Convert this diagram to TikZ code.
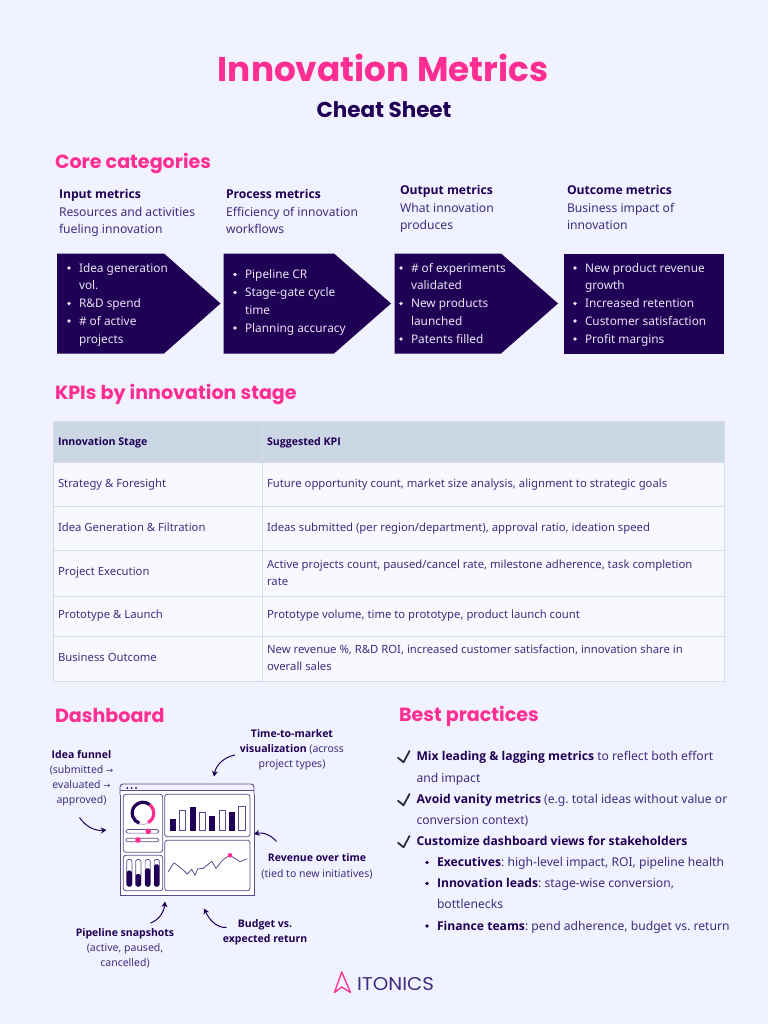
\documentclass[tikz,border=0pt]{standalone}
\usepackage{fontspec}
\setmainfont{Noto Sans}
\newfontfamily\pop{Poppins}
\newfontfamily\opn{Open Sans}
\newfontfamily\djv{DejaVu Sans}
\usetikzlibrary{arrows.meta}
\AtBeginDocument{\frenchspacing}
\definecolor{bgc}{HTML}{F0F2FF}
\definecolor{pnk}{HTML}{FF2E93}
\definecolor{nvy}{HTML}{1F0054}
\definecolor{bdy}{HTML}{3E2E7E}
\definecolor{lit}{HTML}{E6E4F4}
\definecolor{hdr}{HTML}{CBD7E5}
\definecolor{rowc}{HTML}{F7F9FE}
\definecolor{lin}{HTML}{D6DCE8}
\definecolor{gry}{HTML}{5A4C8E}
\definecolor{chk}{HTML}{2E2B45}
\newcount\tc
\newcommand{\bb}[1]{{\opn\bfseries\textcolor{nvy}{#1}}}
\tikzset{
 txt/.style={inner sep=0pt,outer sep=0pt,anchor=base west,text=bdy,font=\fontsize{12.15}{15}\selectfont},
 pent/.style={txt,text=lit,font=\fontsize{11.85}{15}\selectfont},
 ctr/.style={inner sep=0pt,outer sep=0pt,anchor=base,text=bdy,font=\fontsize{10.5}{13}\selectfont},
 cell/.style={inner sep=0pt,outer sep=0pt,anchor=base west,text=bdy,font=\fontsize{11.3}{13}\selectfont},
 sect/.style={inner sep=0pt,outer sep=0pt,anchor=base west,text=pnk,font=\pop\bfseries\fontsize{19.1}{23}\selectfont},
 arrowshape/.style={fill=nvy,draw=none},
 callout/.style={-{Stealth[length=5.5pt,width=6pt,inset=1.5pt]},line width=1pt,draw=nvy},
 panel/.style={draw=gry,line width=.8pt,fill=white,rounded corners=2.5pt},
 barfull/.style={fill=nvy,draw=none},
 barhollow/.style={fill=white,draw=gry,line width=.7pt},
 dotp/.style={fill=pnk,draw=none},
 rule/.style={draw=lin,line width=.7pt},
 checkm/.style={draw=chk,line width=1.8pt,line cap=round,line join=round},
}
\newcommand{\tx}[4][]{\global\advance\tc by 1 \node[txt,#1] (t\the\tc) at (#2,#3+4.3) {#4};}
\newcommand{\pl}[3]{\global\advance\tc by 1 \node[pent] (t\the\tc) at (#1,#2+4.3) {#3};}
\newcommand{\cc}[3]{\global\advance\tc by 1 \node[ctr] (t\the\tc) at (#1,#2+3.6) {#3};}
\newcommand{\ce}[3]{\global\advance\tc by 1 \node[cell] (t\the\tc) at (#1,#2+3.9) {#3};}
\newcommand{\bl}[3]{\fill[lit] (#1,#2) circle (1.9);\pl{#1+10}{#2}{#3}}
\newcommand{\bn}[3]{\fill[nvy] (#1,#2) circle (1.9);\tx{#1+10}{#2}{#3}}
\newcommand{\ra}{{\djv\fontsize{8.5}{10}\selectfont →}}
\newcommand{\hd}[3]{\tx[text=nvy,font=\opn\bfseries\fontsize{12.15}{15}\selectfont]{#1}{#2}{#3}}
\begin{document}
\begin{tikzpicture}[x=1pt,y=-1pt]
\fill[bgc] (0,0) rectangle (768,1024);
\useasboundingbox (0,0) rectangle (768,1024);
% Title
\node[inner sep=0pt,anchor=base,text=pnk,font=\pop\bfseries\fontsize{34.3}{40}\selectfont] (title) at (383,82) {Innovation Metrics};
\node[inner sep=0pt,anchor=base,text=nvy,font=\pop\bfseries\fontsize{21.5}{26}\selectfont] (sub) at (384,118) {Cheat Sheet};
\node[sect] (s1) at (55,169) {Core categories};
\node[sect] (s2) at (55,399) {KPIs by innovation stage};
\node[sect] (s3) at (55,722) {Dashboard};
\node[sect] (s4) at (399,721) {Best practices};
% Category headings
\hd{59}{194.5}{Input metrics}
\tx{59}{212}{Resources and activities}
\tx{59}{229.5}{fueling innovation}
\hd{226}{194.5}{Process metrics}
\tx{226}{212}{Efficiency of innovation}
\tx{226}{229.5}{workflows}
\hd{400}{190.5}{Output metrics}
\tx{400}{208.5}{What innovation}
\tx{400}{225.5}{produces}
\hd{567}{190.5}{Outcome metrics}
\tx{567}{208.5}{Business impact of}
\tx{567}{225.5}{innovation}
% Pentagons
\fill[arrowshape] (57,253.5) -- (164,253.5) -- (220.5,303.5) -- (164,353.5) -- (57,353.5) -- cycle;
\fill[arrowshape] (223.5,253.5) -- (334,253.5) -- (391,303.5) -- (334,353.5) -- (223.5,353.5) -- cycle;
\fill[arrowshape] (394.5,253.5) -- (501,253.5) -- (558,303.5) -- (501,353.5) -- (394.5,353.5) -- cycle;
\fill[arrowshape] (564,253.5) rectangle (724,353.5);
\bl{69}{268}{Idea generation}
\pl{79}{285.5}{vol.}
\bl{69}{303.5}{R\&D spend}
\bl{69}{321}{\# of active}
\pl{79}{339}{projects}
\bl{235}{274.5}{Pipeline CR}
\bl{235}{292.5}{Stage-gate cycle}
\pl{245}{310}{time}
\bl{235}{328}{Planning accuracy}
\bl{401}{268}{\# of experiments}
\pl{411}{285.5}{validated}
\bl{401}{303.5}{New products}
\pl{411}{321}{launched}
\bl{401}{339}{Patents filled}
\bl{575}{268}{New product revenue}
\pl{585}{285.5}{growth}
\bl{575}{303.5}{Increased retention}
\bl{575}{321}{Customer satisfaction}
\bl{575}{339}{Profit margins}
% Table
\fill[hdr] (53,421) rectangle (724.5,462);
\fill[rowc] (53,462) rectangle (724.5,681);
\draw[rule] (53,421) rectangle (724.5,681);
\foreach \yy in {462,506,550.5,596,636.5} \draw[rule] (53,\yy) -- (724.5,\yy);
\draw[rule] (262.5,421) -- (262.5,681);
\node[cell,text=nvy,font=\opn\bfseries\fontsize{10.6}{13}\selectfont] (h1) at (58,445) {Innovation Stage};
\node[cell,text=nvy,font=\opn\bfseries\fontsize{10.6}{13}\selectfont] (h2) at (267,445) {Suggested KPI};
\ce{58}{484}{Strategy \& Foresight}
\ce{267}{484}{Future opportunity count, market size analysis, alignment to strategic goals}
\ce{58}{528}{Idea Generation \& Filtration}
\ce{267}{528}{Ideas submitted (per region/department), approval ratio, ideation speed}
\ce{58}{572}{Project Execution}
\ce{267}{564.5}{Active projects count, paused/cancel rate, milestone adherence, task completion}
\ce{267}{581.5}{rate}
\ce{58}{615}{Prototype \& Launch}
\ce{267}{615}{Prototype volume, time to prototype, product launch count}
\ce{58}{658}{Business Outcome}
\ce{267}{649.5}{New revenue \%, R\&D ROI, increased customer satisfaction, innovation share in}
\ce{267}{666.5}{overall sales}
% Dashboard labels
\cc{81.5}{754.5}{\bb{Idea funnel}}
\cc{81.5}{770}{(submitted \ra}
\cc{81.5}{785}{evaluated \ra}
\cc{81.5}{800}{approved)}
\cc{292}{733.5}{\bb{Time-to-market}}
\cc{292}{748.5}{\bb{visualization} (across}
\cc{292}{763.5}{project types)}
\cc{317}{858}{\bb{Revenue over time}}
\cc{317}{873.5}{(tied to new initiatives)}
\cc{125}{932.5}{\bb{Pipeline snapshots}}
\cc{125}{947.5}{(active, paused,}
\cc{125}{962.5}{cancelled)}
\cc{265}{923.5}{\bb{Budget vs.}}
\cc{265}{938.5}{\bb{expected return}}
% Window
\fill[white] (120,790.7) rectangle (254,895);
\draw[draw=gry,line width=.9pt,rounded corners=3pt] (120,795) -- (120,784) -- (254,784) -- (254,795);
\draw[draw=gry,line width=.9pt] (120,795) -- (120,895) -- (254,895) -- (254,795) (120,790.7) -- (254,790.7);
\foreach \xx in {127.3,131.7,136} \fill[nvy] (\xx,788) circle (1);
\draw[panel] (123.3,794.3) rectangle (162.7,852.3);
\draw[panel] (164.7,794.3) rectangle (250,836.7);
\draw[panel] (164.7,840.3) rectangle (250,890.7);
\draw[panel] (123.3,855.3) rectangle (162.7,890.7);
% donut
\draw[nvy,line width=3.2pt] (143,813) ++(-50:10.8) arc[start angle=-50,end angle=-250,radius=10.8];
\draw[pnk,line width=3.2pt] (143,813) ++(62:10.8) arc[start angle=62,end angle=-50,radius=10.8];
\draw[lit!70!gry,line width=1pt] (143,813) ++(110:11.5) arc[start angle=110,end angle=62,radius=11.5];
% sliders
\foreach \yy/\px in {831.3/148.3,840/138}{
 \draw[draw=gry,line width=.7pt,fill=white,rounded corners=1.5pt] (126,\yy-1.8) rectangle (158.7,\yy+1.8);
 \fill[dotp] (\px,\yy) circle (2.8);
}
% bars
\foreach \xa/\xb/\yt in {170/176/818.7,189.7/195.7/807,209.3/215.3/816.3,228.7/235/812.3}
 \fill[barfull] (\xa,\yt) rectangle (\xb,830.7);
\foreach \xa/\xb/\yt in {179.3/185.3/810.3,199.3/205.7/812.3,219/225.3/810.7,238.7/245/806}
 \draw[barhollow] (\xa,\yt) rectangle (\xb,830.7);
% pills
\foreach \xx/\yt in {129.3/870.7,138.3/874,147.7/868.3,156.7/864.3}{
 \draw[draw=gry,line width=.7pt,fill=white,rounded corners=2pt] (\xx-2.6,859.5) rectangle (\xx+2.6,886);
 \fill[nvy,rounded corners=1.5pt] (\xx-2.6,\yt) rectangle (\xx+2.6,886.5);
}
% line chart
\draw[gry,line width=.8pt,line join=round] (168.3,871.7) -- (174,862.7) -- (183.3,870) -- (187.3,874) -- (191.7,869.3) -- (195,875.3) -- (197.7,869) -- (203.3,868.3) -- (211.7,861.3) -- (216,868.3) -- (223.3,859.3) -- (230,855.3) -- (240,861.7) -- (247.3,858.7);
\fill[dotp] (230,855.3) circle (2.3);
% callouts
\coordinate (a1) at (79.5,817.5); \coordinate (b1) at (106.5,830);
\coordinate (a2) at (235,755); \coordinate (b2) at (214,776.5);
\coordinate (a3) at (276.5,841.5); \coordinate (b3) at (254,834);
\coordinate (a4) at (226.5,927.5); \coordinate (b4) at (204,908.5);
\coordinate (a5) at (150.5,923); \coordinate (b5) at (165,901.5);
\draw[callout] (a1) .. controls (86,827) and (95,831) .. (b1);
\draw[callout] (a2) .. controls (224,757) and (216,765) .. (b2);
\draw[callout] (a3) .. controls (271,835) and (263,832) .. (b3);
\draw[callout] (a4) .. controls (216,928) and (209,919) .. (b4);
\draw[callout] (a5) .. controls (159,920) and (164,912) .. (b5);
% Best practices
\newcommand{\ck}[2]{\draw[checkm] (#1,#2+1.7) -- (#1+5.5,#2+6.3) -- (#1+11.5,#2-5);}
\ck{398}{756}\ck{398}{799}\ck{398}{841}
\tx{416.5}{756}{\bb{Mix leading \& lagging metrics} to reflect both effort}
\tx{416.5}{778}{and impact}
\tx{416.5}{799}{\bb{Avoid vanity metrics} (e.g. total ideas without value or}
\tx{416.5}{820}{conversion context)}
\tx{416.5}{841}{\bb{Customize dashboard views for stakeholders}}
\bn{427}{862.5}{\bb{Executives}: high-level impact, ROI, pipeline health}
\bn{427}{883.5}{\bb{Innovation leads}: stage-wise conversion,}
\tx{437}{904.5}{bottlenecks}
\bn{427}{926}{\bb{Finance teams}: pend adherence, budget vs. return}
% Logo
\draw[pnk,line width=1.3pt,line join=round] (341.7,972) -- (334.5,992.5) -- (341.7,987) -- (350.5,992.5) -- cycle;
\node[inner sep=0pt,anchor=base west,text=bdy,font=\pop\fontsize{18.5}{22}\selectfont] (logo) at (357,990.5) {\scalebox{1.07}[1]{ITONICS}};
\end{tikzpicture}
\end{document}
